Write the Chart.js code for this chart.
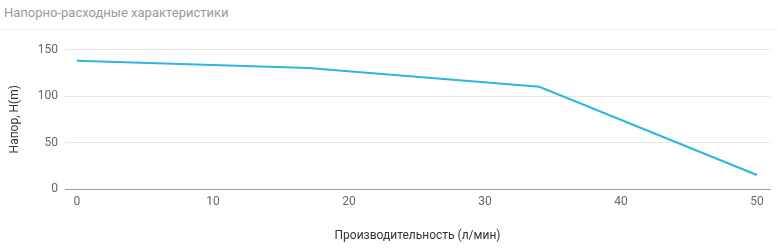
<!DOCTYPE html>
<html>
<head>
<meta charset="utf-8">
<script src="https://cdn.jsdelivr.net/npm/chart.js@4"></script>
<style>
  body { margin: 0; background: #fff; font-family: Roboto, sans-serif; }
  #title {
    position: absolute; left: 0; top: 0; width: 777px; height: 30px;
    border-bottom: 1px solid #eeeeee; box-sizing: border-box;
    font-size: 13px; color: #9a9a9a; padding: 5px 0 0 4px;
  }
  #wrap { position: absolute; left: 0; top: 0; width: 777px; height: 248px; }
</style>
</head>
<body>
<div id="title">Напорно-расходные характеристики</div>
<div id="wrap"><canvas id="myChart"></canvas></div>
<script>
// flow (л/мин) vs head H (m)
var flow = [0, 17, 34, 50];
var head = [138, 130, 110, 15];
var xTicks = [0, 10, 20, 30, 40, 50];
var yTicks = [0, 50, 100, 150];

var points = [];
for (var i = 0; i < flow.length; i++) {
    points.push({x: flow[i], y: head[i]});
}

var ctx = document.getElementById('myChart').getContext('2d');
var chart = new Chart(ctx, {
    type: 'line',
    data: {
        datasets: [{
            label: 'H',
            data: points,
            borderColor: '#2cb6e1',
            borderWidth: 2,
            pointRadius: 0,
            fill: false,
            tension: 0
        }]
    },
    options: {
        responsive: true,
        maintainAspectRatio: false,
        animation: false,
        layout: { padding: { top: 49.5, right: 7, bottom: 0, left: 0 } },
        plugins: { legend: { display: false }, tooltip: { enabled: false } },
        scales: {
            x: {
                type: 'linear',
                min: -0.88,
                max: 50.96,
                afterBuildTicks: function (scale) {
                    scale.ticks = xTicks.map(function (v) { return {value: v}; });
                },
                afterFit: function (scale) { scale.height = 59; },
                grid: { display: false, drawTicks: false },
                border: { display: true, color: '#9e9e9e', width: 1 },
                ticks: { color: '#666', font: { family: 'Roboto', size: 12 }, padding: 6 },
                title: {
                    display: true,
                    text: 'Производительность (л/мин)',
                    color: '#333',
                    font: { family: 'Roboto', size: 12 },
                    padding: { top: 0, bottom: 5 }
                }
            },
            y: {
                min: 0,
                max: 150,
                afterBuildTicks: function (scale) {
                    scale.ticks = yTicks.map(function (v) { return {value: v}; });
                },
                afterFit: function (scale) { scale.width = 65; },
                grid: { color: '#e6e6e6', drawTicks: false },
                border: { display: false },
                ticks: { color: '#666', font: { family: 'Roboto', size: 12 }, padding: 7 },
                title: {
                    display: true,
                    text: 'Напор, H(m)',
                    color: '#333',
                    font: { family: 'Roboto', size: 12 },
                    padding: { top: 8, bottom: 0 }
                }
            }
        }
    }
});
</script>
</body>
</html>
